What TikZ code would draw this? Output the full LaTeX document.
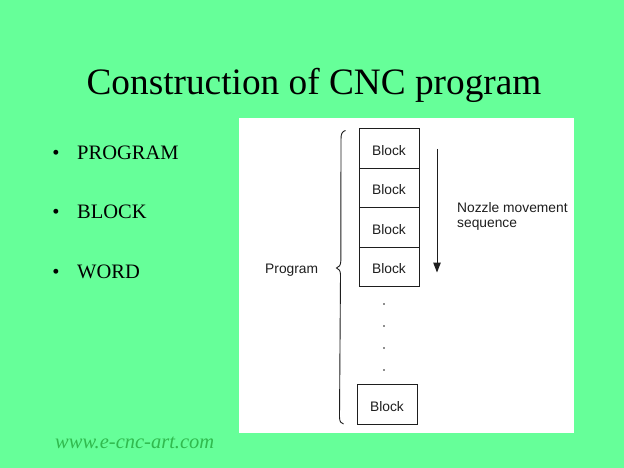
\documentclass[tikz,border=0pt]{standalone}
\usepackage{fontspec}
\setmainfont{Liberation Serif}
\newfontfamily\diagfont{Liberation Sans}
\usetikzlibrary{arrows.meta}
\definecolor{slidegreen}{RGB}{102,255,153}
\definecolor{webgreen}{RGB}{48,186,78}
\definecolor{inkc}{RGB}{30,30,30}
\tikzset{
  titletext/.style={font=\fontsize{37.3}{40}\selectfont, text=black, inner sep=0pt},
  bullettext/.style={font=\fontsize{20.5}{24}\selectfont, text=black, inner sep=0pt},
  blockbox/.style={draw=inkc, line width=1pt, minimum width=60pt, minimum height=39.3pt,
    inner sep=0pt, text height=14pt, font=\diagfont\fontsize{13.8}{15}\selectfont, text=inkc},
  diagtext/.style={font=\diagfont\fontsize{13.8}{15}\selectfont, text=inkc, inner sep=0pt},
  dotmark/.style={circle, fill=inkc, inner sep=0pt, minimum size=1.6pt},
  bracepath/.style={draw=inkc, line width=0.9pt},
  seqarrow/.style={draw=inkc, line width=1pt, -{Triangle[length=10pt,width=7.5pt]}},
}
\begin{document}
\begin{tikzpicture}[x=1pt,y=-1pt]
\useasboundingbox (0,0) rectangle (624,468);
\fill[slidegreen] (0,0) rectangle (624,468);
% title
\node[titletext, anchor=base] (title) at (314,95) {Construction of CNC program};
% bullets
\node[bullettext, anchor=base] (b1) at (56,160) {•};
\node[bullettext, anchor=base west] (t1) at (77,160) {PROGRAM};
\node[bullettext, anchor=base] (b2) at (56,218) {•};
\node[bullettext, anchor=base west] (t2) at (77,218) {BLOCK};
\node[bullettext, anchor=base] (b3) at (56,278) {•};
\node[bullettext, anchor=base west] (t3) at (77,278) {WORD};
% website
\node[font=\fontsize{20.5}{22}\selectfont\itshape, text=webgreen, inner sep=0pt, anchor=base west] (web) at (55,448) {www.e-cnc-art.com};
% white panel
\fill[white] (239,118) rectangle (574,433);
% blocks
\node[blockbox] (k1) at (389,148.6) {Block};
\node[blockbox] (k2) at (389,188) {Block};
\node[blockbox] (k3) at (389,227.4) {Block};
\node[blockbox] (k4) at (389,266.7) {Block};
\node[blockbox] (k5) at (387,404.5) {Block};
% dots
\node[dotmark] (d1) at (384,304) {};
\node[dotmark] (d2) at (384,326) {};
\node[dotmark] (d3) at (384,348) {};
\node[dotmark] (d4) at (384,370) {};
% brace
\coordinate (brtop) at (345.5,130.5);
\coordinate (brtip) at (336.5,268);
\coordinate (brbot) at (343.5,424);
\draw[bracepath] (brtop) .. controls (342,131.5) and (341,134) .. (341,139)
  -- (340.8,261) .. controls (340.8,265) and (339,267.5) .. (brtip)
  .. controls (339,268.5) and (340.5,271) .. (340.5,275)
  -- (339.5,417) .. controls (339.5,421.5) and (341,423.5) .. (brbot);
% program label
\node[diagtext, anchor=base west] (prog) at (265,273.5) {Program};
% arrow
\coordinate (arrtop) at (437,149);
\coordinate (arrbot) at (437,272.5);
\draw[seqarrow] (arrtop) -- (arrbot);
% nozzle label
\node[diagtext, anchor=base west] (noz1) at (457,212) {Nozzle movement};
\node[diagtext, anchor=base west] (noz2) at (457,227) {sequence};
\end{tikzpicture}
\end{document}
